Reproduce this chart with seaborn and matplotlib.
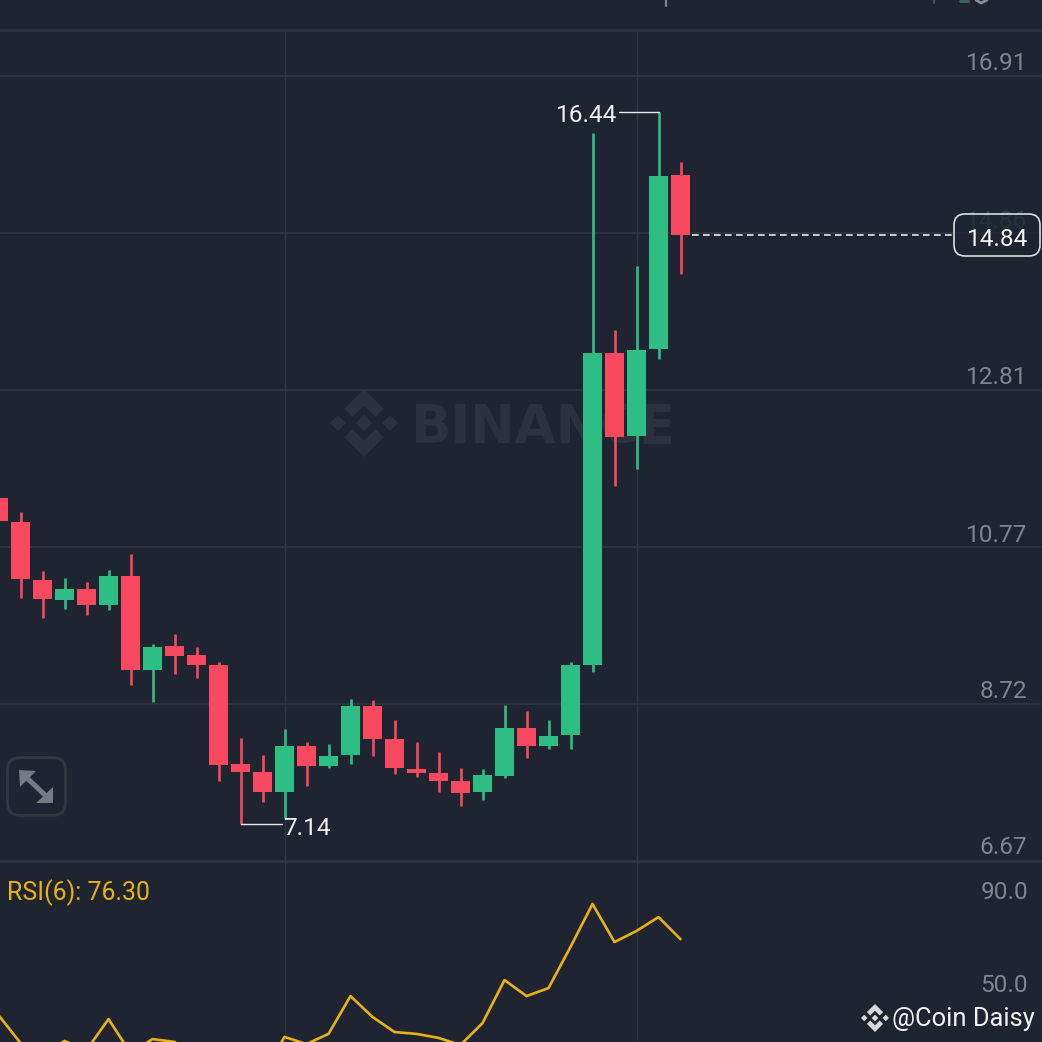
import numpy as np
import pandas as pd
import seaborn as sns
import matplotlib
matplotlib.use("Agg")
import matplotlib.pyplot as plt
from matplotlib.patches import FancyBboxPatch, Polygon

opens = [11.40, 11.09, 10.33, 10.07, 10.21, 10.00, 10.38, 9.15, 9.47, 9.35, 9.22, 7.93, 7.82, 7.56, 8.16, 7.90,
         8.05, 8.68, 8.25, 7.86, 7.81, 7.71, 7.56, 7.77, 8.40, 8.16, 8.31, 9.22, 13.29, 12.21, 13.35, 15.62]
highs = [11.63, 11.22, 10.45, 10.36, 10.30, 10.46, 10.67, 9.49, 9.63, 9.45, 9.26, 8.27, 8.05, 8.39, 8.22, 8.19,
         8.78, 8.76, 8.50, 8.22, 8.08, 7.88, 7.86, 8.70, 8.62, 8.50, 9.26, 16.17, 13.59, 14.43, 16.44, 15.79]
lows = [11.10, 10.09, 9.83, 9.95, 9.87, 9.94, 8.96, 8.74, 9.10, 9.05, 7.71, 7.14, 7.43, 7.22, 7.64, 7.88,
        7.93, 8.03, 7.80, 7.76, 7.56, 7.38, 7.46, 7.74, 8.01, 8.12, 8.12, 9.13, 11.56, 11.78, 13.21, 14.33]
closes = [11.10, 10.34, 10.08, 10.21, 10.00, 10.38, 9.15, 9.45, 9.34, 9.22, 7.92, 7.82, 7.56, 8.16, 7.90, 8.03,
          8.68, 8.25, 7.88, 7.81, 7.71, 7.55, 7.78, 8.40, 8.16, 8.29, 9.22, 13.29, 12.20, 13.33, 15.60, 14.84]
rsi = [44.0, 32.1, 27.0, 33.0, 29.1, 42.3, 27.9, 33.8, 32.6, 24.9, 12.1, 14.3, 18.5, 34.7, 31.7, 36.0,
       52.1, 43.2, 36.8, 36.0, 34.3, 31.3, 40.6, 58.9, 52.1, 55.5, 73.0, 91.3, 75.1, 79.8, 85.7, 76.3]
price_ticks = ["16.91", "14.86", "12.81", "10.77", "8.72", "6.67"]
rsi_ticks = ["90.0", "50.0"]

BG = "#1f2530"
GRID = "#2f353f"
RED = "#f84960"
GREEN = "#2ebd85"
LABEL = "#7e858d"
YELLOW = "#e9b116"
WM = "#2c323d"

sns.set_theme(style="dark", rc={"axes.facecolor": BG, "figure.facecolor": BG})
plt.rcParams["font.family"] = ["Roboto", "DejaVu Sans"]

W = 1042
fig = plt.figure(figsize=(10.42, 10.42), dpi=100, facecolor=BG)


def panel(top, bottom, zorder=1):
    ax = fig.add_axes([0, 1 - bottom / W, 1, (bottom - top) / W], zorder=zorder)
    ax.patch.set_alpha(0)
    for s in ax.spines.values():
        s.set_visible(False)
    ax.set_xticks([])
    ax.set_yticks([])
    ax.set_xlabel("")
    ax.set_ylabel("")
    return ax


def px_x(px):
    return (px + 1.5) / 22


df = pd.DataFrame({"i": np.arange(len(opens)), "open": opens, "high": highs, "low": lows, "close": closes, "rsi": rsi})
df["up"] = df["close"] >= df["open"]
colors = df["up"].map({True: GREEN, False: RED})

# pixel overlay layers
under = panel(0, W, zorder=0)
under.set_xlim(0, W)
under.set_ylim(W, 0)
over = panel(0, W, zorder=3)
over.set_xlim(0, W)
over.set_ylim(W, 0)


def logo(ax, cx, cy, r, color):
    top = [(0, -1), (.58, -.42), (.34, -.18), (0, -.52), (-.34, -.18), (-.58, -.42)]
    shapes = [top, [(x, -y) for x, y in top]]
    for dx, h in [(0, .24), (.77, .23), (-.77, .23)]:
        shapes.append([(dx, -h), (dx + h, 0), (dx, h), (dx - h, 0)])
    for s in shapes:
        ax.add_patch(Polygon([(cx + x * r, cy + y * r) for x, y in s], closed=True, fc=color, ec="none"))


# grid and separators
for y in [76, 233, 390, 547, 704]:
    under.plot([0, W], [y, y], color=GRID, lw=1.3)
for x in [285, 637]:
    under.plot([x, x], [30, W], color=GRID, lw=1.0)
for y in [30, 861]:
    under.plot([0, W], [y, y], color=GRID, lw=1.8)

# watermark
logo(under, 364, 423, 34, WM)
under.text(410, 423, "BINANCE", color=WM, fontsize=38.2, fontweight="bold", family="DejaVu Sans", ha="left", va="center_baseline")

# clipped remains of the header row
under.plot([666, 666], [0, 6], color="#7e858d", lw=1.6)
under.plot([934, 934], [0, 3], color="#4a5058", lw=1.4)
under.plot([960, 968], [1, 1], color="#3f6a5c", lw=2)
under.plot([976, 981, 987], [0, 3, 0], color="#8a9097", lw=2)

# candles
ax = panel(30, 861, zorder=1)
ax.set_xlim(px_x(0), px_x(W))
ax.set_ylim(17.902 - 0.013055 * 861, 17.902 - 0.013055 * 30)
ax.vlines(df["i"], df["low"], df["high"], colors=colors, lw=1.9, zorder=2)
body_low = df[["open", "close"]].min(axis=1)
body_h = (df["open"] - df["close"]).abs()
ax.bar(df["i"], body_h, bottom=body_low, width=0.89, color=colors, linewidth=0, zorder=3)

# high, low and last price notes
last = closes[-1]
imax = int(np.argmax(highs))
imin = int(np.argmin(lows))
ax.plot([imax, px_x(619)], [highs[imax]] * 2, color="#e8e8e8", lw=1.0, zorder=4)
ax.plot([imin, px_x(282)], [lows[imin]] * 2, color="#e8e8e8", lw=1.0, zorder=4)
ax.text(px_x(617), highs[imax] - 0.05, f"{highs[imax]:.2f}", color="#f0f0f0", fontsize=17.6, ha="right", va="center")
ax.text(px_x(283), lows[imin] - 0.055, f"{lows[imin]:.2f}", color="#f0f0f0", fontsize=17.6, ha="left", va="center")
ax.plot([len(closes) - 0.5, px_x(953)], [last, last], color="#e8e8e8", lw=1.2, dashes=(4, 2.6), zorder=4)

# price labels
for lab, y in zip(price_ticks, [64, 221, 378, 535, 692, 847]):
    c = "#3c424b" if lab == "14.86" else LABEL
    under.text(1027, y, lab, color=c, fontsize=17.6, ha="right", va="center")
over.add_patch(FancyBboxPatch((954, 214), 86, 42, boxstyle="round,pad=0,rounding_size=11", fc=BG, alpha=0.6, ec="none"))
over.add_patch(FancyBboxPatch((954, 214), 86, 42, boxstyle="round,pad=0,rounding_size=11", fc="none", ec="#d5e2e0", lw=1.2))
over.text(1028, 240, f"{last:.2f}", color="#f4f4f4", fontsize=17.6, ha="right", va="center")

# RSI panel
rx = panel(861, W, zorder=1)
rx.set_xlim(px_x(0), px_x(W))
rx.set_ylim(90 - (W - 907) / 2.35, 90 + (907 - 861) / 2.35)
sns.lineplot(data=df, x="i", y="rsi", ax=rx, color=YELLOW, lw=1.9, legend=False, errorbar=None)
rx.set_xlabel("")
rx.set_ylabel("")
over.text(7, 893, f"RSI(6): {rsi[-1]:.2f}", color=YELLOW, fontsize=17.9, ha="left", va="center")
for lab, y in zip(rsi_ticks, [892.5, 985.5]):
    over.text(1028, y, lab, color=LABEL, fontsize=17.6, ha="right", va="center")

# expand button
over.add_patch(FancyBboxPatch((7.5, 757.5), 58, 58, boxstyle="round,pad=0,rounding_size=13", fc="none", ec="#31373f", lw=2))
ARROW = "#757b83"
over.add_patch(Polygon([(19, 770), (36, 771), (20, 787)], closed=True, fc=ARROW, ec="none"))
over.add_patch(Polygon([(53, 803), (36, 803), (53, 787)], closed=True, fc=ARROW, ec="none"))
over.plot([26, 46], [777, 796], color=ARROW, lw=3.6, solid_capstyle="butt")

# bottom right credit
logo(over, 875, 1018, 14, "#d8d8d8")
over.text(892, 1019, "@Coin Daisy", color="#f2f2f2", fontsize=18.4, ha="left", va="center")

fig.savefig("out.png", dpi=100, facecolor=BG)
